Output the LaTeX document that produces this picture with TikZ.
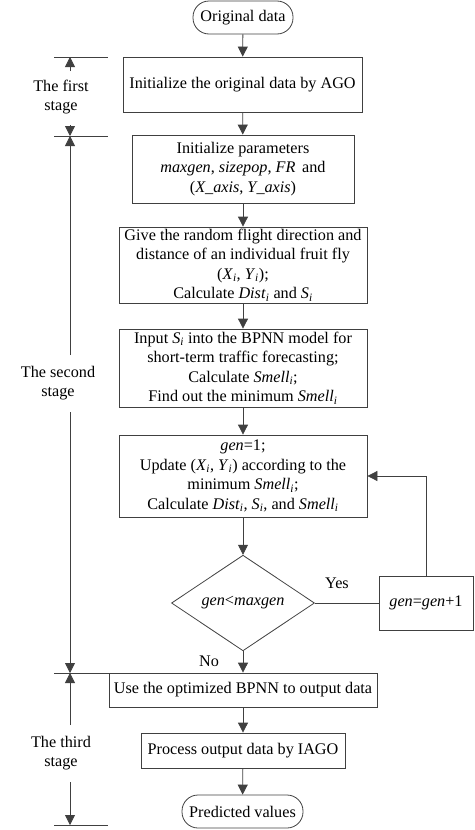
\documentclass[tikz,border=0pt]{standalone}
\usepackage{fontspec}
\setmainfont{Liberation Serif}
\usetikzlibrary{arrows.meta,shapes.geometric}
\newcommand{\sbi}{\textsubscript{\itshape i}}
\begin{document}
\begin{tikzpicture}[x=1pt,y=-1pt,
  line/.style={draw=black!75, line width=0.8pt},
  arr/.style={line, -{Triangle[length=10pt,width=10pt]}},
  txt/.style={font=\fontsize{16.2}{19.5}\selectfont, align=center, inner sep=0pt},
  box/.style={line, txt, rectangle},
  term/.style={box, rounded corners=16pt},
  stage/.style={line}
]
\useasboundingbox (0,0) rectangle (474,830);

% main flow
\node[term, minimum width=100pt, minimum height=33pt] (orig) at (243,17.5) {Original data};
\node[box, minimum width=239pt, minimum height=55pt] (b1) at (242.5,84.5) {Initialize the original data by AGO};
\node[box, minimum width=222pt, minimum height=68pt] (b2) at (243,169) {Initialize parameters\\\textit{maxgen}, \textit{sizepop}, \textit{FR}\, and\\(\textit{X\_axis}, \textit{Y\_axis})};
\node[box, minimum width=248pt, minimum height=76pt] (b3) at (243,265) {Give the random flight direction and\\distance of an individual fruit fly\\(\textit{X}\sbi, \textit{Y}\sbi);\\Calculate \textit{Dist}\sbi\ and \textit{S}\sbi};
\node[box, minimum width=248pt, minimum height=78pt] (b4) at (243,368) {Input \textit{S}\sbi\ into the BPNN model for\\short-term traffic forecasting;\\Calculate \textit{Smell}\sbi;\\Find out the minimum \textit{Smell}\sbi};
\node[box, minimum width=248pt, minimum height=82pt] (b5) at (243,476) {\textit{gen}=1;\\Update (\textit{X}\sbi, \textit{Y}\sbi) according to the\\minimum \textit{Smell}\sbi;\\Calculate \textit{Dist}\sbi, \textit{S}\sbi, and \textit{Smell}\sbi};
\node[line, txt, diamond, minimum width=143pt, minimum height=85pt] (dec) at (243,603) {\textit{gen}<\textit{maxgen}};
\node[box, minimum width=94pt, minimum height=54pt] (gen) at (426,603) {\textit{gen}=\textit{gen}+1};
\node[box, minimum width=268pt, minimum height=34pt] (b6) at (243,690) {Use the optimized BPNN to output data};
\node[box, minimum width=204pt, minimum height=35pt] (b7) at (243,750.5) {Process output data by IAGO};
\node[term, minimum width=121pt, minimum height=33pt] (pred) at (242.5,811.5) {Predicted values};

\draw[arr] (orig) -- (b1);
\draw[arr] (b1) -- (b2);
\draw[arr] (b2) -- (b3);
\draw[arr] (b3) -- (b4);
\draw[arr] (b4) -- (b5);
\draw[arr] (b5) -- (dec);
\draw[arr] (dec) -- (b6);
\draw[arr] (b6) -- (b7);
\draw[arr] (b7) -- (pred);
\draw[line] (dec.east) -- (gen.west);
\draw[arr] (gen.north) |- (b5.east);

\node[txt] (yes) at (337,583) {Yes};
\node[txt] (no) at (209,661) {No};

% stage markers
\coordinate (m1a) at (54,57);   \coordinate (m1b) at (108,57);
\coordinate (m2a) at (54,136);  \coordinate (m2b) at (108,136);
\coordinate (m3a) at (54,673);  \coordinate (m3b) at (109,673);
\coordinate (m4a) at (54,825);  \coordinate (m4b) at (108,825);
\draw[line] (m1a) -- (m1b);
\draw[line] (m2a) -- (m2b);
\draw[line] (m3a) -- (m3b);
\draw[line] (m4a) -- (m4b);

\node[txt] (s1) at (61,97) {The first\\stage};
\node[txt] (s2) at (58,383) {The second\\stage};
\node[txt] (s3) at (61,753) {The third\\stage};

\coordinate (s1t) at (70,71);  \coordinate (s1b) at (70,125);
\coordinate (s2t) at (70,355); \coordinate (s2b) at (70,412);
\coordinate (s3t) at (70,725); \coordinate (s3b) at (70,782);
\draw[arr] (s1t) -- (70,57);
\draw[arr] (s1b) -- (70,136);
\draw[arr] (s2t) -- (70,136);
\draw[arr] (s2b) -- (70,673);
\draw[arr] (s3t) -- (70,673);
\draw[arr] (s3b) -- (70,825);
\end{tikzpicture}
\end{document}
